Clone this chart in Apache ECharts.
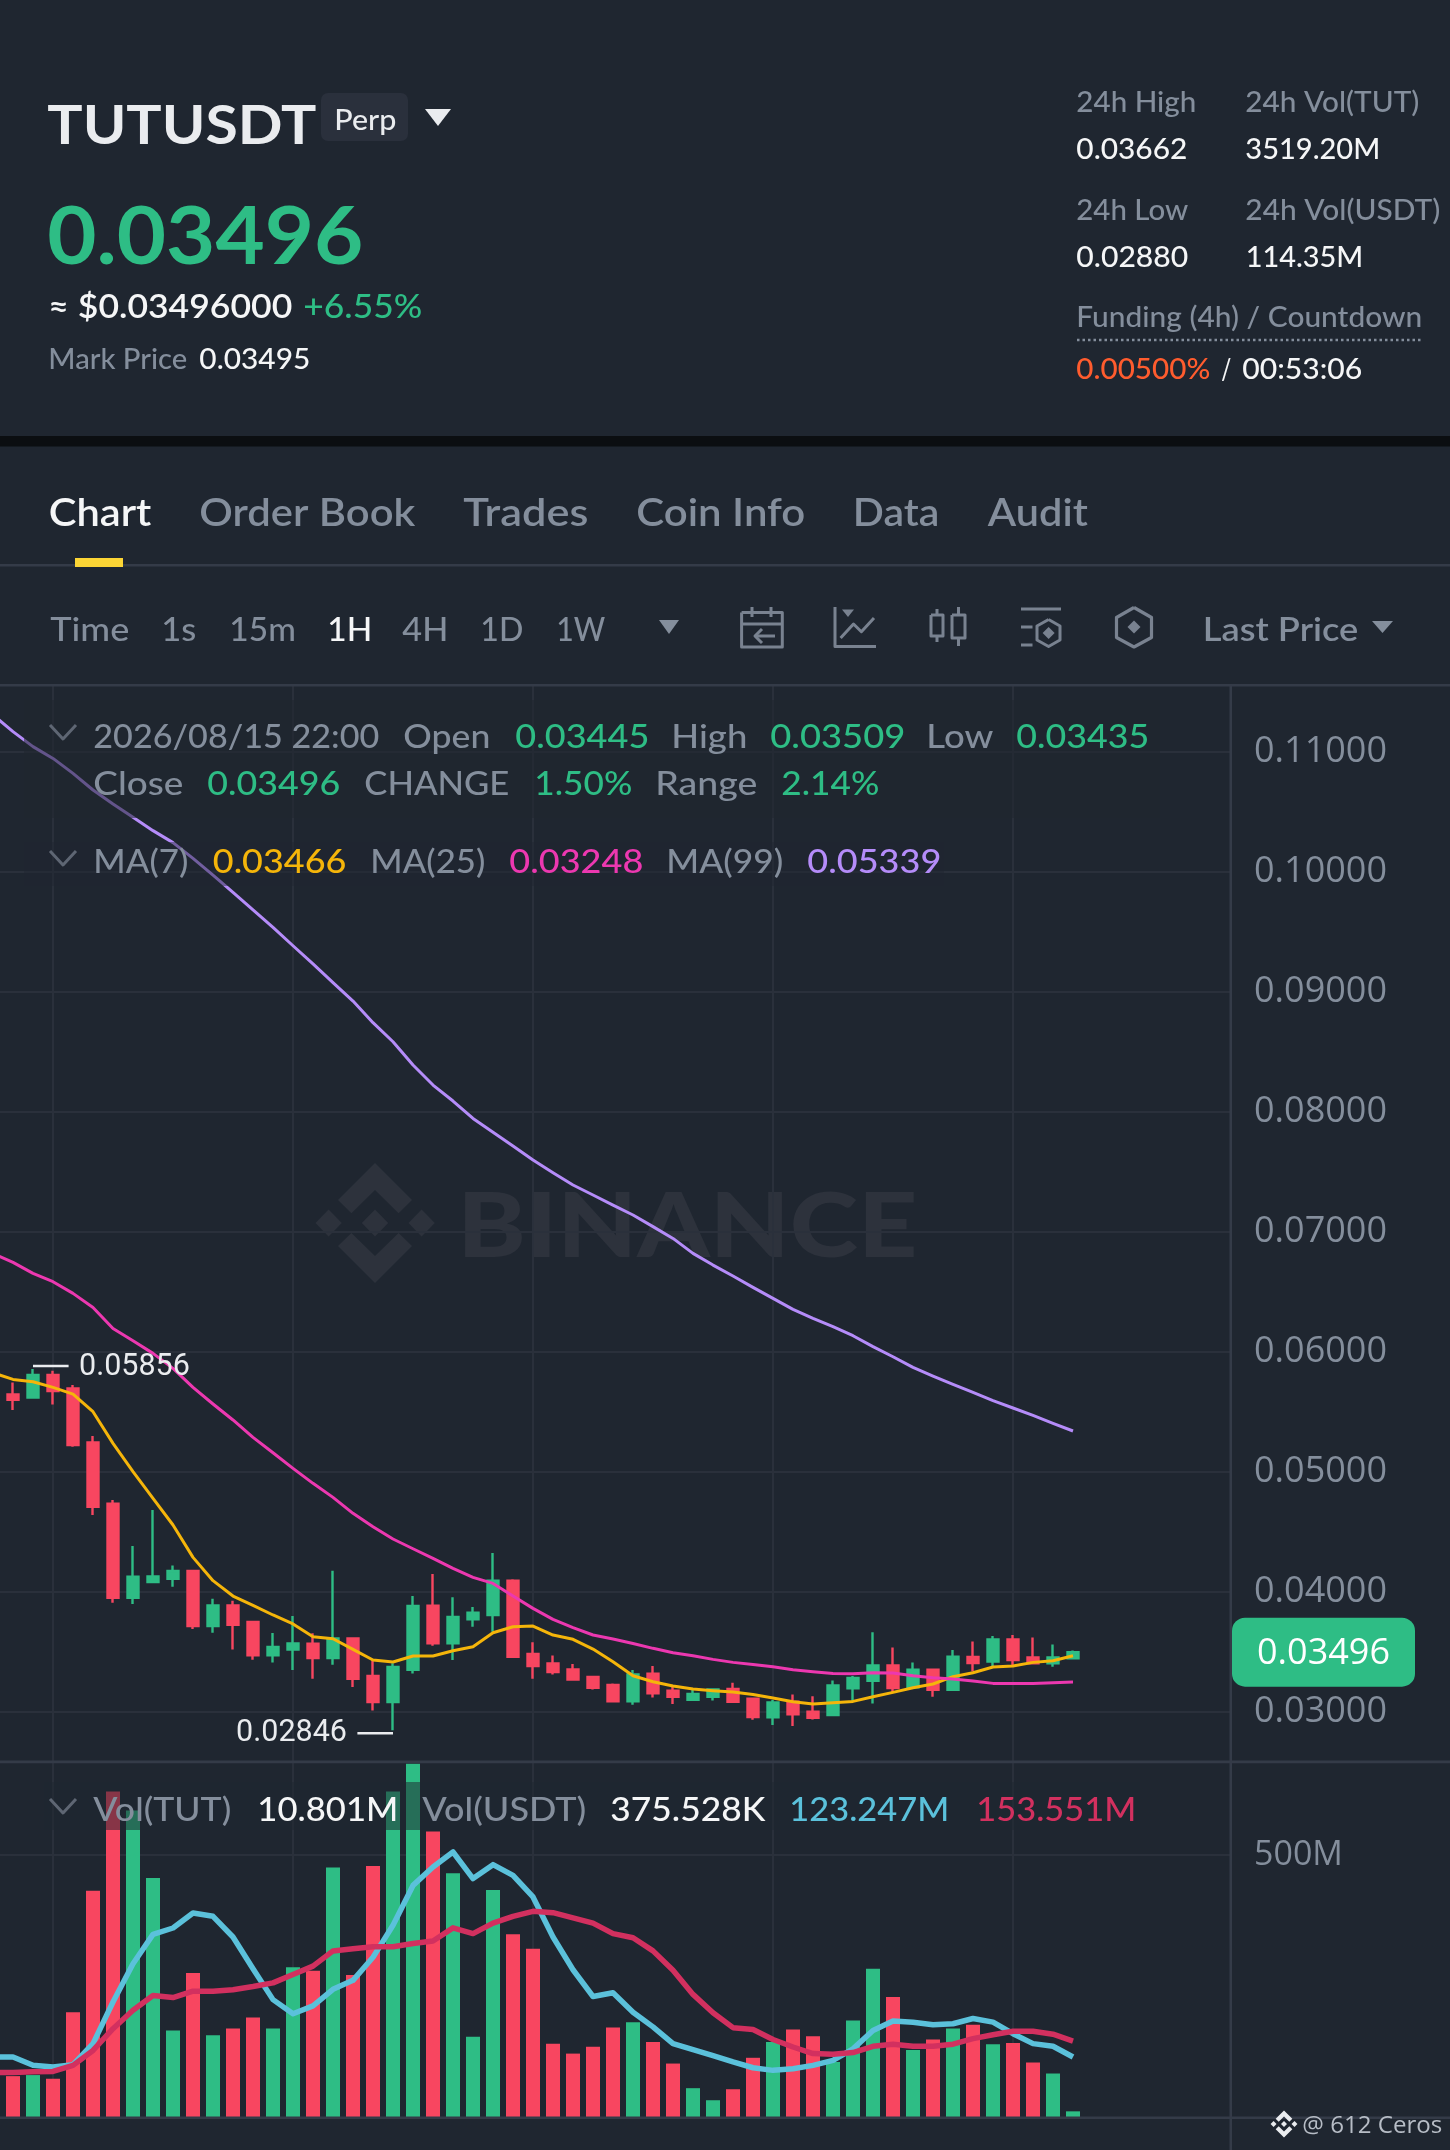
<!DOCTYPE html>
<html><head><meta charset="utf-8"><title>TUTUSDT</title>
<style>html,body{margin:0;padding:0;background:#1F2630;overflow:hidden}#c{width:1450px;height:2150px}</style>
<script src="https://cdn.jsdelivr.net/npm/echarts@6/dist/echarts.min.js"></script>
</head><body><div id="c"></div>
<script>
// ---- data ----
const hours=[-3,-2,-1,0,1,2,3,4,5,6,7,8,9,10,11,12,13,14,15,16,17,18,19,20,21,22,23,24,25,26,27,28,29,30,31,32,33,34,35,36,37,38,39,40,41,42,43,44,45,46,47,48,49,50,51];
const open=[.0575,.05644,.05617,.05806,.05694,.05244,.04733,.0395,.04081,.04108,.04172,.03714,.03886,.03747,.03469,.03517,.03567,.03447,.03611,.03297,.03081,.0335,.03883,.03569,.03769,.03806,.04092,.03481,.03403,.03353,.03289,.03222,.03086,.03317,.03175,.031,.03125,.03189,.03108,.02953,.03083,.03,.02972,.03194,.03258,.03386,.03203,.0335,.03183,.03456,.03417,.03603,.03453,.03403,.03445];
const close=[.05625,.0560,.05806,.05672,.05222,.04708,.0395,.04125,.04128,.04172,.03714,.03886,.03725,.03469,.03539,.03569,.03447,.03611,.03275,.03081,.03372,.03881,.03569,.03789,.03825,.04092,.03458,.03381,.0333,.03267,.032,.03086,.03311,.03153,.03125,.03147,.03186,.03083,.02956,.03078,.02978,.0295,.03219,.03281,.03386,.03197,.0335,.03183,.03458,.03406,.03603,.03431,.03403,.03453,.03496];
const low=[.0558,.05514,.0561,.05561,.05208,.04639,.03908,.03897,.04075,.04042,.03689,.03658,.03519,.03433,.03411,.03347,.03275,.03392,.03206,.03011,.02846,.03319,.0355,.03431,.03708,.03667,.03458,.03275,.03311,.03258,.03186,.03078,.03058,.03119,.03064,.031,.03094,.03083,.02933,.02889,.02881,.02936,.02972,.03089,.03069,.03164,.03194,.03125,.03183,.03336,.03381,.03383,.03403,.03375,.03435];
const high=[.0577,.05744,.05856,.05842,.05722,.05297,.04764,.04381,.04681,.04219,.04172,.03942,.03925,.03747,.03656,.03797,.03653,.04175,.03611,.03431,.03403,.03964,.04147,.03953,.03872,.04322,.04103,.03578,.03469,.03397,.033,.03236,.03347,.03381,.03208,.03181,.03194,.03242,.03108,.03097,.03144,.03128,.03261,.03297,.03662,.03536,.03411,.0335,.03514,.03586,.03631,.03639,.03619,.03561,.03509];
const ma7=[.05825,.05769,.0575,.05703,.05647,.055,.05236,.05,.04778,.04556,.04286,.04092,.03964,.03886,.03806,.03731,.03625,.03608,.03519,.03431,.03414,.03464,.03464,.03508,.03542,.03658,.03708,.03714,.03639,.03603,.03522,.03417,.033,.0325,.03214,.03189,.03175,.03164,.03144,.03114,.03083,.03064,.03075,.03086,.03125,.03161,.032,.03231,.03292,.03325,.03372,.03381,.03411,.03425,.03466];
const ma25=[.06819,.06744,.06653,.06583,.06486,.06369,.06194,.06092,.05986,.05861,.05703,.05564,.05431,.05286,.05158,.05028,.04903,.04786,.04653,.04542,.04439,.04358,.04278,.04194,.04119,.04069,.03964,.03861,.03769,.037,.03639,.03606,.03569,.03528,.03492,.03467,.03436,.03411,.03394,.03375,.0335,.03333,.03319,.03317,.03325,.03322,.033,.03283,.03272,.03256,.03236,.03236,.03236,.03242,.03248];
const ma99=[.11306,.11167,.11042,.10944,.10819,.10681,.10564,.10453,.10342,.10242,.10111,.09972,.09828,.09681,.09536,.09383,.09231,.09075,.08922,.08742,.08583,.08389,.08222,.08089,.07944,.07828,.07714,.07597,.07492,.07389,.07306,.07222,.07139,.07042,.06944,.06819,.06722,.06631,.06536,.06444,.06353,.06278,.06208,.06133,.06042,.05958,.05869,.05797,.05728,.05661,.05592,.05531,.05469,.05403,.05339];
const volume=[67,78,80,73,200,432,621,585,456,165,275,156,169,190,169,286,279,476,271,479,621,674,545,465,153,433,349,321,140,121,134,171,181,143,102,55,32,53,113,143,167,154,105,184,283,229,128,148,169,176,139,141,104,83,10.801];
const volFast=[114.5,114.5,98.6,95.4,99.9,140,219.5,292.6,348.6,360.7,389.3,383,343.5,283,224,197,212,243.6,260.8,305,365.8,442,477,505.7,455,481.6,461,420,343.5,281,230,237,200,172,140,128.5,117,105,94,89,92,98.6,108,130,165,183,181,176,178,188,181,159,140,135,114.5];
const volSlow=[85,85,86.5,87,98.6,127,168.6,203.6,232,228,240,240,243,249,256,272,288,317,321,325,325,331,336,361,350,370,383,392.5,390,380,370,350,342,317,280,234,199,170.5,167,148,133.6,121,119.6,123,135,139,135,135,139,149.5,157,163.5,163.5,158,145];
const priceTicks={min:.02,interval:.01};
const volTicks={min:0,interval:500};

// ---- palette ----
const BG='#1F2630',UP='#2EBD85',DOWN='#F84660',GRID='#2A303B',RULE='#343B48',MUTED='#848E9C',WHITE='#EAECEF',PURE='#F5F6F7';
const YEL='#F5B50A',PINK='#EC38B0',PUR='#B58CF9',BLUE='#5BC1DB',CRIM='#D2305F';
const UI='Lato',AX='"Open Sans"';

// ---- helpers for the page furniture ----
const mctx=document.createElement('canvas').getContext('2d');
function T(text,x,base,w,size,fill,weight,family,z){
  family=family||UI;weight=weight||'500';
  mctx.font=weight+' '+size+'px '+family;mctx.textBaseline='middle';
  const adj=mctx.measureText('H').actualBoundingBoxDescent;
  const mw=mctx.measureText(text).width;
  return {type:'text',x:x-0.7,y:base-adj,scaleX:(w+2)/mw,z:z||20,silent:true,
    style:{text:text,x:0,y:0,fill:fill,fontSize:size,fontFamily:family,fontWeight:weight,align:'left',verticalAlign:'middle'}};
}
const R=(x,y,w,h,fill,z,r)=>({type:'rect',z:z==null?15:z,silent:true,shape:{x:x,y:y,width:w,height:h,r:r||0},style:{fill:fill}});
// draws an outline icon given as "M x y L x y H x V y Z" sub-paths, one polyline per sub-path
function P(d,stroke,lw,z){
  const out=[];let cur=null,x=0,y=0;
  d.replace(/([MLHVZ])([^MLHVZ]*)/g,(m,c,a)=>{
    const n=a.trim().split(/[\s,]+/).map(Number);
    if(c==='M'){x=n[0];y=n[1];cur=[[x,y]];out.push(cur);}
    else if(c==='L'){x=n[0];y=n[1];cur.push([x,y]);}
    else if(c==='H'){x=n[0];cur.push([x,y]);}
    else if(c==='V'){y=n[0];cur.push([x,y]);}
    else {cur.push(cur[0].slice());}
    return m;
  });
  return out.map(pts=>({type:'polyline',z:z==null?20:z,silent:true,shape:{points:pts},style:{stroke:stroke,lineWidth:lw,fill:null,lineJoin:'round'}}));
}
const Poly=(pts,fill,z)=>({type:'polygon',z:z==null?20:z,silent:true,shape:{points:pts},style:{fill:fill}});
function logo(cx,cy,s,fill,z){
  const part=a=>Poly(a.map(p=>[cx+p[0]*s,cy+p[1]*s]),fill,z);
  return [
    part([[0,-60],[37,-23],[23.6,-9.7],[0,-33],[-23.6,-9.7],[-37,-23]]),
    part([[0,60],[37,23],[23.6,10],[0,33],[-23.6,10],[-37,23]]),
    part([[0,-13.5],[13.2,0],[0,13.5],[-13.2,0]]),
    part([[-46.4,-13.5],[-33.2,0],[-46.4,13.5],[-59.6,0]]),
    part([[46.6,-13.5],[59.8,0],[46.6,13.5],[33.4,0]])
  ];
}
const chev=(y)=>P('M50 '+y+' L63 '+(y+14)+' L76 '+y,'#5E6673',3);
const ICON='#798290';

const furniture=[
  // watermark
  logo(375,1223,1,'#2D323C',-1),
  T('BINANCE',458,1257,458,90,'#2D323C','900',UI,-1),
  // header
  T('TUTUSDT',48,144,267,54,WHITE,'bold'),
  R(321,93,87,48,'#2A303C',15,7),
  T('Perp',335,130,60,28,WHITE),
  Poly([[425,109],[451,109],[438,126]],WHITE),
  T('0.03496',48,264,314,80,UP,'bold'),
  T('≈ $0.03496000',49,318,242,33,PURE,'600'),
  T('+6.55%',304,318,117,33,UP),
  T('Mark Price',49,369,137,28,MUTED),
  T('0.03495',200,369,109,28,PURE),
  T('24h High',1077,111.5,118,29,MUTED),
  T('24h Vol(TUT)',1246,111.5,172,29,MUTED),
  T('0.03662',1077,159,109,29,PURE),
  T('3519.20M',1246,159,133,29,PURE),
  T('24h Low',1077,219.5,110,29,MUTED),
  T('24h Vol(USDT)',1246,219.5,193,29,MUTED),
  T('0.02880',1077,267,110,29,PURE),
  T('114.35M',1246.5,267,115.5,29,PURE),
  T('Funding (4h) / Countdown',1077,327,344,29,MUTED),
  {type:'line',z:20,silent:true,shape:{x1:1077,y1:340,x2:1422,y2:340},style:{stroke:MUTED,lineWidth:2.5,lineDash:[2.5,3]}},
  T('0.00500%',1077,378.5,132,29,'#FF5C2E'),
  T('/',1222,378.5,8,29,PURE),
  T('00:53:06',1243,378.5,118,29,PURE),
  R(0,436,1450,10.5,'#0B0E11'),
  // tabs
  T('Chart',49.5,525.5,100.5,38,PURE,'600'),
  T('Order Book',200,525.5,214,38,MUTED,'600'),
  T('Trades',464,525.5,123,38,MUTED,'600'),
  T('Coin Info',637,525.5,167,38,MUTED,'600'),
  T('Data',853.5,525.5,84.5,38,MUTED,'600'),
  T('Audit',988.5,525.5,98,38,MUTED,'600'),
  R(0,564,1450,2.5,RULE),
  R(75,558,48,9,'#FCD535'),
  // toolbar
  T('Time',51,641,77,32,MUTED),
  T('1s',162,641,33,32,MUTED),
  T('15m',230,641,64.5,32,MUTED),
  T('1H',328,641,43,32,PURE),
  T('4H',403,641,44,32,MUTED),
  T('1D',481,641,41,32,MUTED),
  T('1W',557,641,47,32,MUTED),
  Poly([[659,620],[679,620],[669,634]],MUTED),
  P('M741.6 612.5H782.3V647H741.6ZM741.6 624H782.3M752 607V617M771 607V617M775 636H755M762 629L755 636L762 643',ICON,3),
  P('M835 607V646.4H876M840.6 638L853.5 624L861.4 631.7L874 618',ICON,3),
  Poly([[842,609.5],[854,609.5],[848,617]],ICON),
  P('M931 615H943V636H931ZM937 609V615M937 636V642M952 615H965V638H952ZM958.5 607V615M958.5 638V646',ICON,3),
  P('M1021 609H1061M1021 627H1032.5M1021 645H1032.5M1048.6 619.5L1060 626V640L1048.6 646.5L1037 640V626Z',ICON,3),
  Poly([[1048.6,627],[1054.6,633],[1048.6,639],[1042.6,633]],ICON),
  P('M1134 607.5L1151.5 617.5V637.5L1134 647L1116.5 637.5V617.5Z',ICON,3.2),
  Poly([[1134,620.5],[1140.5,627],[1134,633.5],[1127.5,627]],ICON),
  T('Last Price',1203.5,641,153.5,32,MUTED,'600'),
  Poly([[1372,621],[1393,621],[1382.5,633]],MUTED),
  R(0,684,1450,2.5,RULE),
  // pane rules
  R(1229.5,686,2.5,1464,RULE,12),
  R(0,1760.5,1450,2.8,RULE,12),
  R(0,2116.5,1450,2.5,RULE,12),
  // legends: a translucent plate behind each row, then the text
  R(24,700,1136,118,'rgba(31,38,48,0.55)',14),
  R(24,842,920,44,'rgba(31,38,48,0.45)',14),
  R(44,1782,1096,48,'rgba(31,38,48,0.52)',14),
  chev(725),
  T('2026/08/15 22:00',94,747.5,284,32,MUTED),
  T('Open',404,747.5,85,32,MUTED),
  T('0.03445',516,747.5,132,32,UP),
  T('High',672,747.5,74,32,MUTED),
  T('0.03509',771,747.5,133,32,UP),
  T('Low',927,747.5,65,32,MUTED),
  T('0.03435',1017,747.5,131,32,UP),
  T('Close',94,795,88,32,MUTED),
  T('0.03496',208,795,131,32,UP),
  T('CHANGE',365,795,143,32,MUTED),
  T('1.50%',535,795,96,32,UP),
  T('Range',656,795,100,32,MUTED),
  T('2.14%',782,795,96,32,UP),
  chev(851),
  T('MA(7)',94,873,93,32,MUTED),
  T('0.03466',213.5,873,131.5,32,YEL),
  T('MA(25)',371,873,113,32,MUTED),
  T('0.03248',510,873,132,32,PINK),
  T('MA(99)',667,873,115,32,MUTED),
  T('0.05339',808,873,132,32,PUR),
  chev(1799),
  T('Vol(TUT)',94,1820.5,136,32,MUTED),
  T('10.801M',258,1820.5,139,32,PURE),
  T('Vol(USDT)',423,1820.5,162,32,MUTED),
  T('375.528K',611,1820.5,153,32,PURE),
  T('123.247M',790,1820.5,158,32,BLUE),
  T('153.551M',977,1820.5,158,32,CRIM),
  // bottom-right credit
  logo(1284,2124,.225,WHITE,25),
  T('@ 612 Ceros',1303,2133,138,23,'#B7BDC6','normal',AX,25)
].flat();

// ---- series built from the arrays ----
const rows=(ys)=>hours.map((h,i)=>[h,ys[i]]);
const candles=hours.map((h,i)=>[h,open[i],close[i],low[i],high[i]]);
const bars=hours.map((h,i)=>({value:[h,volume[i]],itemStyle:{color:close[i]>=open[i]?UP:DOWN}}));
const maLine=(name,ys,color,lw,ax)=>({name:name,type:'line',data:rows(ys),xAxisIndex:ax,yAxisIndex:ax,showSymbol:false,symbol:'none',smooth:false,z:5,
  lineStyle:{color:color,width:lw,join:'round'},itemStyle:{color:color}});
const hiV=Math.max.apply(null,high),loV=Math.min.apply(null,low);
const extremes=[[hours[high.indexOf(hiV)],hiV,1],[hours[low.indexOf(loV)],loV,-1]];
const lastQuote=[[hours[hours.length-1],close[close.length-1]]];

const option={
  animation:false,backgroundColor:BG,textStyle:{fontFamily:UI},
  grid:[
    {left:-187,top:686,width:1418,height:1145.7,containLabel:false,outerBoundsMode:'none'},
    {left:-187,top:1763,width:1418,height:354,containLabel:false,outerBoundsMode:'none'}
  ],
  xAxis:[0,1].map(i=>({type:'value',gridIndex:i,min:-12,max:58.9,interval:12,
    axisLine:{show:false},axisTick:{show:false},axisLabel:{show:false},
    splitLine:{show:true,lineStyle:{color:GRID,width:2}}})),
  yAxis:[
    {type:'value',gridIndex:0,position:'right',min:priceTicks.min,max:.115475,interval:priceTicks.interval,
     axisLine:{show:false},axisTick:{show:false},
     axisLabel:{margin:23,color:MUTED,fontFamily:AX,fontSize:36,padding:[0,0,5,0],showMinLabel:false,showMaxLabel:false,formatter:v=>v.toFixed(5)},
     splitLine:{show:true,showMinLine:false,showMaxLine:false,lineStyle:{color:GRID,width:2}}},
    {type:'value',gridIndex:1,position:'right',min:volTicks.min,max:675.6,interval:volTicks.interval,
     axisLine:{show:false},axisTick:{show:false},
     axisLabel:{margin:23,color:MUTED,fontFamily:AX,fontSize:34,padding:[0,0,5,0],showMinLabel:false,showMaxLabel:false,formatter:v=>v+'M'},
     splitLine:{show:true,showMinLine:false,showMaxLine:false,lineStyle:{color:GRID,width:2}}}
  ],
  graphic:{elements:furniture},
  series:[
    {name:'Price',type:'candlestick',data:candles,xAxisIndex:0,yAxisIndex:0,barWidth:11.6,z:3,
     itemStyle:{color:UP,color0:DOWN,borderColor:UP,borderColor0:DOWN,borderWidth:2.4}},
    maLine('MA(7)',ma7,YEL,3,0),
    maLine('MA(25)',ma25,PINK,3,0),
    maLine('MA(99)',ma99,PUR,3,0),
    {name:'Vol(TUT)',type:'bar',data:bars,xAxisIndex:1,yAxisIndex:1,barWidth:14,z:3},
    maLine('Vol MA fast',volFast,BLUE,5.5,1),
    maLine('Vol MA slow',volSlow,CRIM,5.5,1),
    {name:'High / Low',type:'custom',coordinateSystem:'cartesian2d',xAxisIndex:0,yAxisIndex:0,data:extremes,encode:{x:0,y:1},z:8,clip:false,silent:true,
     renderItem:(p,api)=>{
       const c=api.coord([api.value(0),api.value(1)]),d=api.value(2);
       const ly=c[1]-3*d,x2=c[0]+35.6*d;
       return {type:'group',children:[
         {type:'line',shape:{x1:c[0],y1:ly,x2:x2,y2:ly},style:{stroke:WHITE,lineWidth:2.5}},
         {type:'text',style:{text:api.value(1).toFixed(5),x:c[0]+46*d,y:ly+(d>0?1:0),fill:WHITE,fontSize:30.5,fontFamily:'Roboto',align:d>0?'left':'right',verticalAlign:'middle'}}
       ]};
     }},
    {name:'Last price',type:'custom',coordinateSystem:'cartesian2d',xAxisIndex:0,yAxisIndex:0,data:lastQuote,encode:{x:0,y:1},z:9,clip:false,silent:true,
     renderItem:(p,api)=>{
       const c=api.coord([api.value(0),api.value(1)]);
       const x=p.coordSys.x+p.coordSys.width+1;
       return {type:'group',children:[
         {type:'rect',shape:{x:x,y:c[1]-34.5,width:183,height:69,r:13},style:{fill:UP}},
         {type:'text',style:{text:api.value(1).toFixed(5),x:x+25,y:c[1]+2,fill:'#FFFFFF',fontSize:36,fontFamily:AX,fontWeight:'500',align:'left',verticalAlign:'middle'}}
       ]};
     }}
  ]
};
echarts.init(document.getElementById('c'),null,{renderer:'canvas',width:1450,height:2150}).setOption(option);
</script></body></html>
